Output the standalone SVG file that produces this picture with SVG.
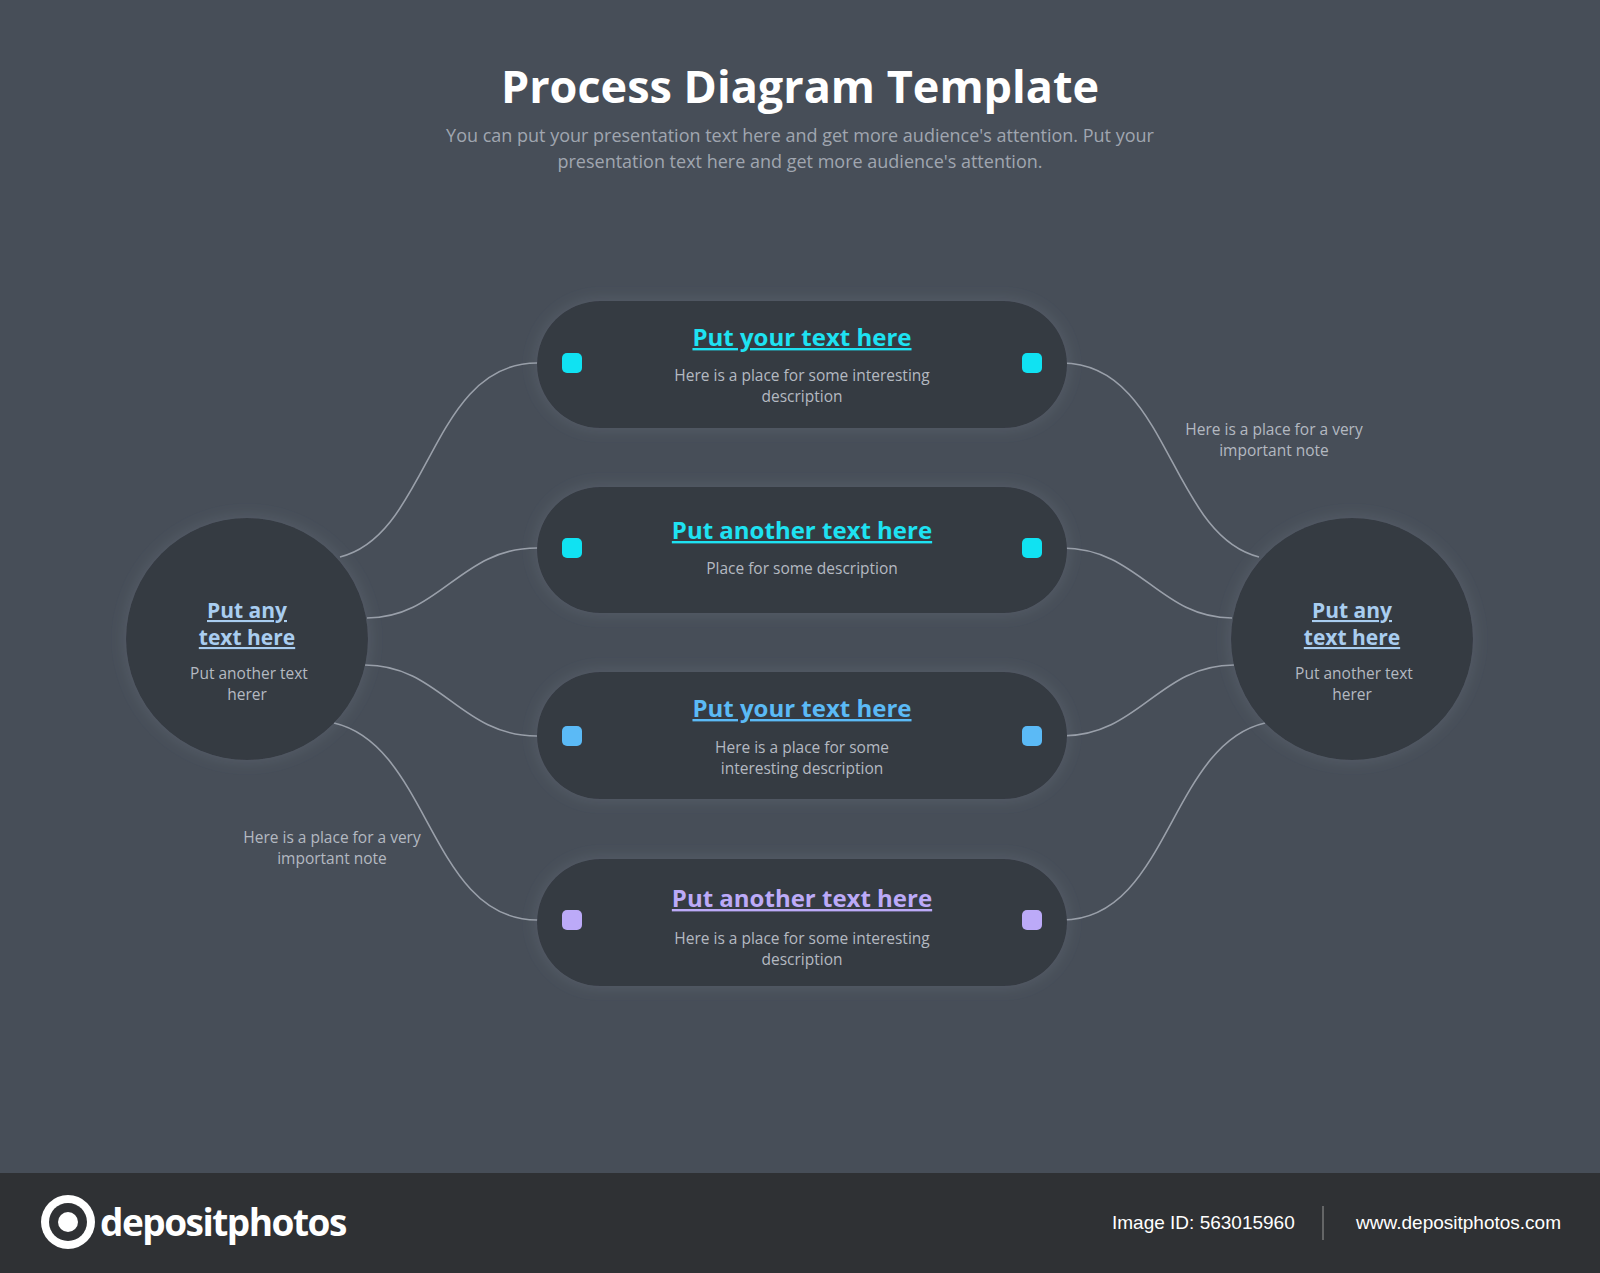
<svg xmlns="http://www.w3.org/2000/svg" width="1600" height="1273" viewBox="0 0 1600 1273">
<defs>
<filter id="glow" x="-20%" y="-30%" width="140%" height="160%"><feGaussianBlur in="SourceAlpha" stdDeviation="10"/><feFlood flood-color="#7a828e" flood-opacity="0.35"/><feComposite operator="in" in2="SourceAlpha"/><feGaussianBlur stdDeviation="8"/><feMerge><feMergeNode/><feMergeNode in="SourceGraphic"/></feMerge></filter>
</defs>
<style>
text{font-family:"Open Sans",Lato,"Liberation Sans",sans-serif}
.pill{fill:#353a43;filter:url(#glow)}
.circ{fill:#353a43;filter:url(#glow)}
.t{font-weight:bold;font-size:24px;text-anchor:middle;text-decoration:underline}
.d{font-size:15.5px;fill:#b4b9c1;text-anchor:middle}
.ct{font-weight:bold;font-size:21px;fill:#a9cdf0;text-anchor:middle;text-decoration:underline}
.con{fill:none;stroke:#9aa0aa;stroke-width:1.6}
</style>
<rect width="1600" height="1273" fill="#474e58"/>
<text x="800" y="103" font-size="45" font-weight="bold" fill="#ffffff" text-anchor="middle">Process Diagram Template</text>
<text x="800" y="142" font-size="18" fill="#a0a6b0" text-anchor="middle">You can put your presentation text here and get more audience's attention. Put your</text>
<text x="800" y="168" font-size="18" fill="#a0a6b0" text-anchor="middle">presentation text here and get more audience's attention.</text>
<g id="connectors">
<path class="con" d="M340 557 C430 535 430 363 537 363 L572 363"/>
<path class="con" d="M367 618 C440 618 460 548 537 548 L572 548"/>
<path class="con" d="M365 665 C440 665 460 736 537 736 L572 736"/>
<path class="con" d="M334 723 C430 745 430 920 537 920 L572 920"/>
<path class="con" d="M1259 557 C1169 535 1169 363 1062 363 L1032 363"/>
<path class="con" d="M1232 618 C1159 618 1139 548 1062 548 L1032 548"/>
<path class="con" d="M1234 665 C1159 665 1139 736 1062 736 L1032 736"/>
<path class="con" d="M1265 723 C1169 745 1169 920 1062 920 L1032 920"/>
</g>
<g id="left-circle"><circle class="circ" cx="247" cy="639" r="121"/>
<text class="ct" x="247" y="618">Put any</text><text class="ct" x="247" y="645">text here</text>
<text class="d" x="249" y="679">Put another text</text><text class="d" x="247" y="700">herer</text></g>
<g id="right-circle"><circle class="circ" cx="1352" cy="639" r="121"/>
<text class="ct" x="1352" y="618">Put any</text><text class="ct" x="1352" y="645">text here</text>
<text class="d" x="1354" y="679">Put another text</text><text class="d" x="1352" y="700">herer</text></g>
<g id="pill1"><rect class="pill" x="537" y="301" width="530" height="127" rx="63.5"/>
<rect x="562" y="353" width="20" height="20" rx="5" fill="#10e2f2"/><rect x="1022" y="353" width="20" height="20" rx="5" fill="#10e2f2"/>
<text class="t" x="802" y="346" fill="#1ee2f2">Put your text here</text>
<text class="d" x="802" y="381">Here is a place for some interesting</text><text class="d" x="802" y="402">description</text></g>
<g id="pill2"><rect class="pill" x="537" y="487" width="530" height="126" rx="63"/>
<rect x="562" y="538" width="20" height="20" rx="5" fill="#10e2f2"/><rect x="1022" y="538" width="20" height="20" rx="5" fill="#10e2f2"/>
<text class="t" x="802" y="539" fill="#1ee2f2">Put another text here</text>
<text class="d" x="802" y="574">Place for some description</text></g>
<g id="pill3"><rect class="pill" x="537" y="672" width="530" height="127" rx="63.5"/>
<rect x="562" y="726" width="20" height="20" rx="5" fill="#5bbaf6"/><rect x="1022" y="726" width="20" height="20" rx="5" fill="#5bbaf6"/>
<text class="t" x="802" y="717" fill="#5bbaf6">Put your text here</text>
<text class="d" x="802" y="753">Here is a place for some</text><text class="d" x="802" y="774">interesting description</text></g>
<g id="pill4"><rect class="pill" x="537" y="859" width="530" height="127" rx="63.5"/>
<rect x="562" y="910" width="20" height="20" rx="5" fill="#bcaaf8"/><rect x="1022" y="910" width="20" height="20" rx="5" fill="#bcaaf8"/>
<text class="t" x="802" y="907" fill="#bcaaf8">Put another text here</text>
<text class="d" x="802" y="944">Here is a place for some interesting</text><text class="d" x="802" y="965">description</text></g>
<g id="note-right"><text class="d" x="1274" y="435">Here is a place for a very</text><text class="d" x="1274" y="456">important note</text></g>
<g id="note-left"><text class="d" x="332" y="843">Here is a place for a very</text><text class="d" x="332" y="864">important note</text></g>
<g id="footer"><rect x="0" y="1173" width="1600" height="100" fill="#2f3134"/>
<circle cx="68" cy="1222" r="27" fill="#ffffff"/><circle cx="68" cy="1222" r="19" fill="#2f3134"/><circle cx="68" cy="1222" r="10" fill="#ffffff"/>
<text x="100" y="1236" font-size="37" font-weight="bold" fill="#ffffff" letter-spacing="-1.5">depositphotos</text>
<text x="1112" y="1229" font-size="19" fill="#ffffff" style="font-family:'Liberation Sans',sans-serif">Image ID: 563015960</text>
<line x1="1323" y1="1206" x2="1323" y2="1240" stroke="#777" stroke-width="1.5"/>
<text x="1561" y="1229" font-size="19" fill="#ffffff" text-anchor="end" style="font-family:'Liberation Sans',sans-serif">www.depositphotos.com</text></g>
</svg>
